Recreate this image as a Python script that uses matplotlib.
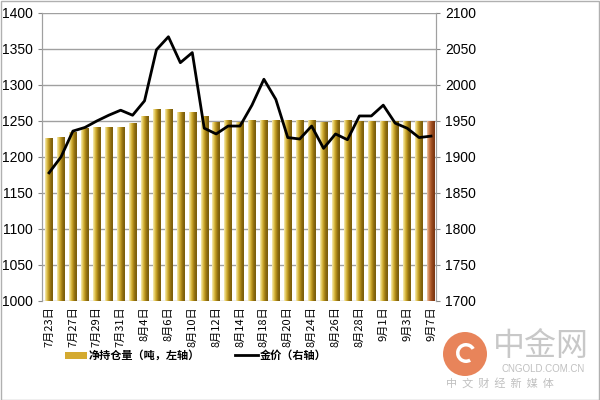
import numpy as np
import matplotlib
matplotlib.use("Agg")
import matplotlib.pyplot as plt
from matplotlib.colors import LinearSegmentedColormap
from matplotlib.patches import Rectangle, Circle, Wedge

plt.rcParams["font.family"] = ["Liberation Sans", "Noto Sans CJK SC", "DejaVu Sans"]

# DATA

tick_labels = ["7月23日", "7月27日", "7月29日", "7月31日", "8月4日", "8月6日", "8月10日",
               "8月12日", "8月14日", "8月18日", "8月20日", "8月24日", "8月26日", "8月28日",
               "9月1日", "9月3日", "9月7日"]

holdings = [1227, 1228, 1235, 1240, 1241, 1241, 1241, 1247, 1257, 1267, 1267,
            1262, 1262, 1257, 1249, 1251, 1249, 1251, 1251, 1251, 1251, 1251,
            1251, 1249, 1251, 1251, 1250, 1250, 1250, 1250, 1250, 1250, 1250]

gold_price = [1878, 1900, 1936, 1941, 1950, 1958, 1965, 1958, 1978, 2049, 2067,
              2031, 2045, 1940, 1932, 1943, 1943, 1972, 2008, 1980, 1927, 1925,
              1943, 1912, 1932, 1924, 1957, 1957, 1972, 1947, 1940, 1927, 1929]

legend_labels = ["净持仓量（吨，左轴）", "金价（右轴）"]

# PLOT

x = np.arange(len(holdings))
gold_cmap = LinearSegmentedColormap.from_list(
    "gold", ["#f6ecb8", "#e0c250", "#b8921c", "#8a6a10", "#7a5c0c"])
brown_cmap = LinearSegmentedColormap.from_list(
    "brown", ["#f0c8a8", "#d08050", "#a85828", "#8a4018", "#7a3614"])
grad = np.linspace(0, 1, 64).reshape(1, -1)

fig = plt.figure(figsize=(6, 4), dpi=100)
ax = fig.add_axes([0.07, 0.2475, 0.6567, 0.72])
ax2 = ax.twinx()

bars = ax.bar(x, holdings, width=0.62, color="#c9a230", linewidth=0, zorder=2)
for i, patch in enumerate(bars):
    cmap = brown_cmap if i == len(bars) - 1 else gold_cmap
    x0 = patch.get_x()
    im = ax.imshow(grad, extent=[x0, x0 + patch.get_width(), 1000, holdings[i]],
                   aspect="auto", cmap=cmap, zorder=3)
    im.set_clip_path(patch)

ax.set_xlim(-0.59, 32.42)
ax.set_ylim(1000, 1400)
ax.set_yticks(np.arange(1000, 1401, 50))
ax.set_xticks(x[::2])
ax.set_xticklabels(tick_labels, rotation=90, fontsize=8,
                   family=["Noto Sans CJK SC", "DejaVu Sans"])
ax.tick_params(axis="x", length=0, pad=4)
ax.tick_params(axis="y", labelsize=10, length=3, color="#888888")
ax.grid(axis="y", color="#a0a0a0", linewidth=1, zorder=0)
ax.set_axisbelow(True)

ax2.plot(x, gold_price, color="black", linewidth=2, zorder=5)
ax2.set_ylim(1700, 2100)
ax2.set_yticks(np.arange(1700, 2101, 50))
ax2.tick_params(axis="y", labelsize=10, length=3, color="#888888")

for a in (ax, ax2):
    for side in ("top", "bottom"):
        a.spines[side].set_visible(False)
    a.spines["left"].set_color("#a0a0a0")
    a.spines["right"].set_color("#a0a0a0")
ax.set_zorder(ax2.get_zorder() - 1)
ax2.patch.set_visible(False)

# legend (positions in pixels, y measured from top)
def fx(px):
    return px / 600

def fy(py):
    return 1 - py / 400

fig.patches.append(Rectangle((fx(65), fy(359)), 22 / 600, 7 / 400,
                             transform=fig.transFigure, facecolor="#d4aa30",
                             edgecolor="none"))
fig.text(fx(89), fy(355), legend_labels[0], fontsize=8, weight="bold",
         va="center", family=["Noto Sans CJK SC"])
fig.lines.append(plt.Line2D([fx(235), fx(258)], [fy(355)] * 2,
                            transform=fig.transFigure, color="black", linewidth=2))
fig.text(fx(260), fy(355), legend_labels[1], fontsize=8, weight="bold",
         va="center", family=["Noto Sans CJK SC"])

# watermark
fig.patches.append(Circle((4.65, 0.46), 0.22, transform=fig.dpi_scale_trans,
                          facecolor="#e8845a", edgecolor="none"))
fig.patches.append(Wedge((4.66, 0.47), 0.10, 30, 300, width=0.035,
                         transform=fig.dpi_scale_trans, facecolor="white",
                         edgecolor="none"))
fig.text(fx(493), fy(346), "中金网", fontsize=23, color="#c8c8c8",
         va="center", family=["Noto Sans CJK SC"])
fig.text(fx(585), fy(369), "CNGOLD.COM.CN", fontsize=7, color="#c0c0c0",
         ha="right", va="center")
fig.text(fx(446), fy(383), "中  文  财  经  新  媒  体", fontsize=8, color="#c0c0c0",
         va="center", family=["Noto Sans CJK SC"])

fig.patches.append(Rectangle((0.001, 0.001), 0.997, 0.997, transform=fig.transFigure,
                             facecolor="none", edgecolor="#b0b0b0", linewidth=1))

fig.savefig("out.png", dpi=100)
